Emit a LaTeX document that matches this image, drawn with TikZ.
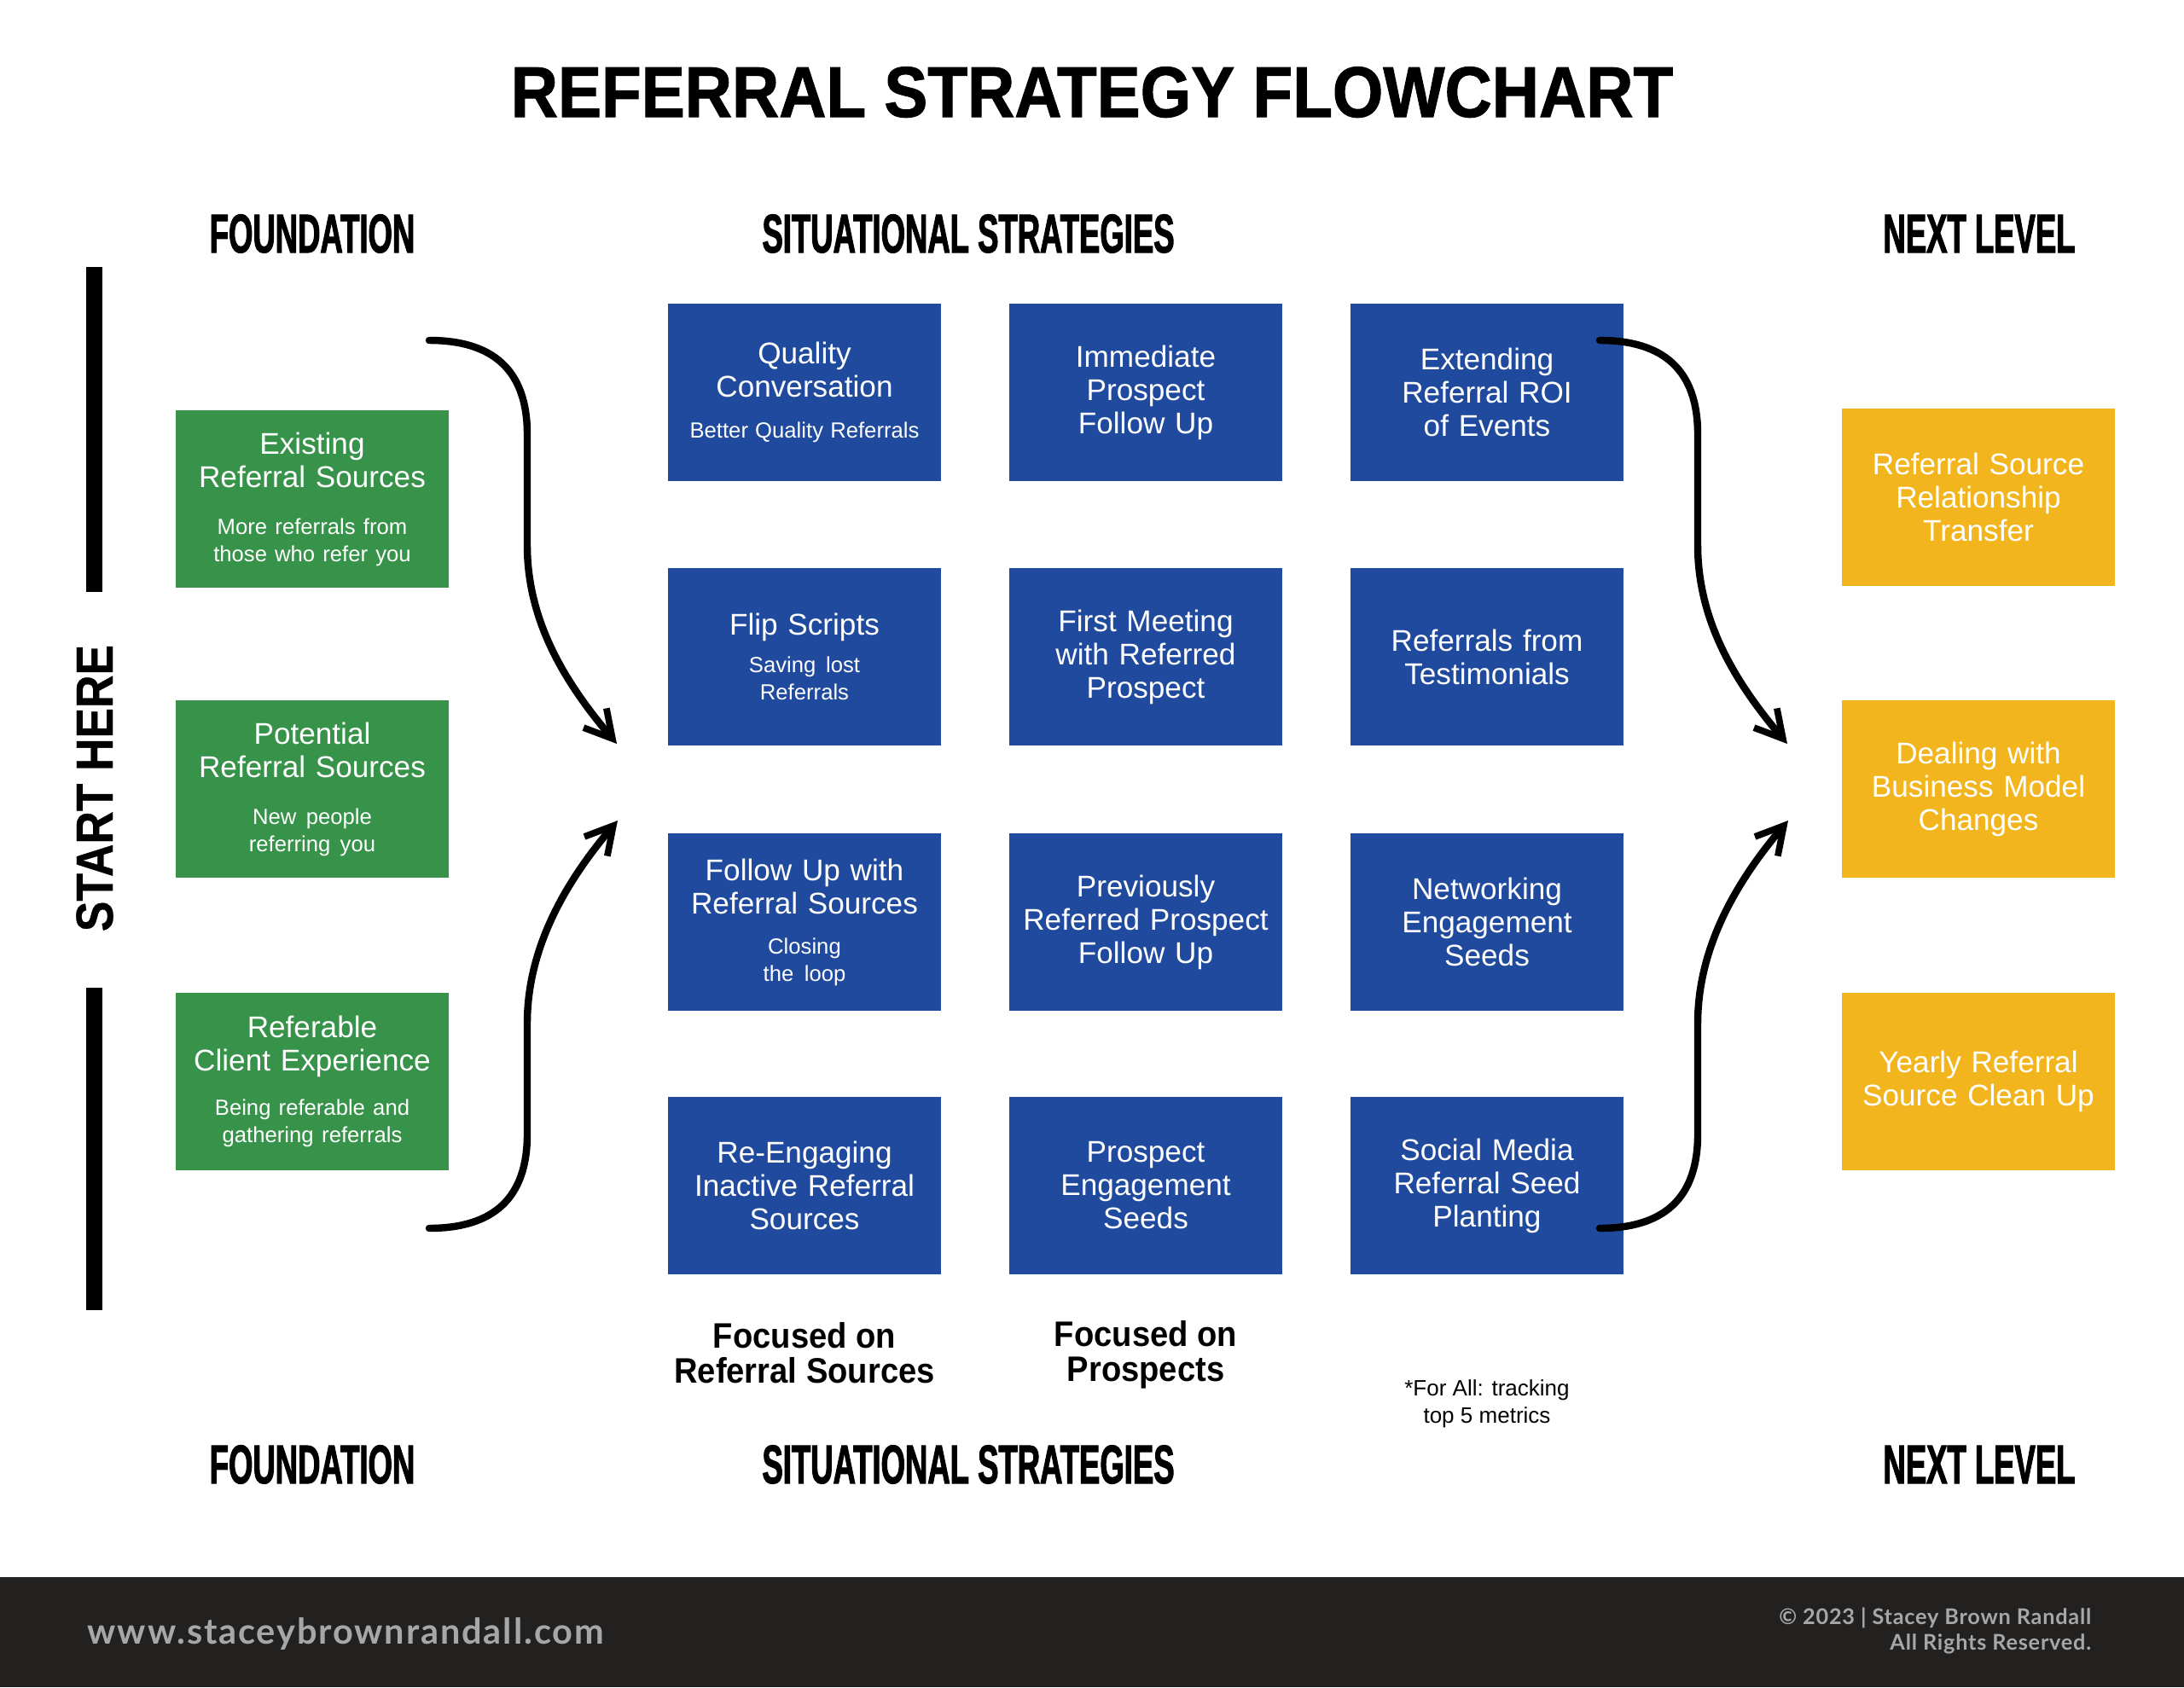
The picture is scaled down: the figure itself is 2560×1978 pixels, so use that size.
\documentclass[tikz,border=0pt]{standalone}
\usepackage{fontspec}
\usetikzlibrary{arrows.meta,calc}
\setmainfont{Liberation Sans}
\newfontfamily\titlefam{Liberation Sans}[FakeStretch=0.91,BoldFeatures={FakeBold=1.2}]
\newfontfamily\headfam{Liberation Sans}[FakeStretch=0.57,BoldFeatures={FakeBold=1.6}]
\newfontfamily\startfam{Liberation Sans}[FakeStretch=0.87,BoldFeatures={FakeBold=0.6}]
\newfontfamily\labfam{Liberation Sans}[FakeStretch=0.92]
\newfontfamily\footfam{Lato}[LetterSpace=4.5]
\newfontfamily\copyfam{Lato}[LetterSpace=3]
\definecolor{gbox}{HTML}{38934A}
\definecolor{bbox}{HTML}{1F4A9E}
\definecolor{ybox}{HTML}{F2B51D}
\definecolor{footbg}{HTML}{222120}
\definecolor{foottxt}{HTML}{A7A7A9}
\newcommand{\subf}{\fontsize{7.3}{9.1}\selectfont\spaceskip=0pt\xspaceskip=0pt\relax}
\tikzset{
  cell/.style={rectangle, inner sep=0pt, minimum width=3.2cm, minimum height=2.08cm,
    text width=3.1cm, align=center, text=white, font=\fontsize{10}{11.1}\selectfont},
  gcell/.style={cell, fill=gbox},
  bcell/.style={cell, fill=bbox},
  ycell/.style={cell, fill=ybox},
  hdr/.style={anchor=base, inner sep=0pt, font=\headfam\bfseries\fontsize{18.2}{20}\selectfont},
  focus/.style={align=center, inner sep=0pt, font=\labfam\bfseries\fontsize{11.8}{11.7}\selectfont},
  curly/.style={line width=2.4pt, line cap=round, black,
    -{Straight Barb[length=9pt,width=10pt,line width=2.2pt]}},
  bar/.style={fill=black}
}
\begin{document}
\begin{tikzpicture}[x=0.01cm,y=-0.01cm]
\useasboundingbox (0,0) rectangle (2560,1978);
\fill[white] (0,0) rectangle (2560,1978);
\fill[footbg] (0,1849) rectangle (2560,1978);

% title
\node[anchor=base, inner sep=0pt, font=\titlefam\bfseries\fontsize{23.9}{28}\selectfont] (title) at (1280,137) {REFERRAL STRATEGY FLOWCHART};

% headers
\node[hdr] (hfound) at (366,296) {FOUNDATION};
\node[hdr] (hsit) at (1135,296) {SITUATIONAL STRATEGIES};
\node[hdr] (hnext) at (2320,296) {NEXT LEVEL};
\node[hdr] (ffound) at (366,1739) {FOUNDATION};
\node[hdr] (fsit) at (1135,1739) {SITUATIONAL STRATEGIES};
\node[hdr] (fnext) at (2320,1739) {NEXT LEVEL};

% start here
\fill[bar] (101,313) rectangle (120,694);
\fill[bar] (101,1158) rectangle (120,1536);
\node[rotate=90, inner sep=0pt, font=\startfam\bfseries\fontsize{17.4}{20}\selectfont] (start) at (111,924) {START HERE};

% foundation boxes
\node[gcell] (g1) at (366,585) {Existing\\Referral Sources\par\vspace{6.5pt}{\subf More referrals from\\those who refer you\par}};
\node[gcell] (g2) at (366,925) {Potential\\Referral Sources\par\vspace{6.5pt}{\subf New people\\referring you\par}};
\node[gcell] (g3) at (366,1268) {Referable\\Client Experience\par\vspace{5.5pt}{\subf Being referable and\\gathering referrals\par}};

% situational boxes
\node[bcell] (b11) at (943,460) {Quality\\Conversation\par\vspace{4.6pt}{\subf Better Quality Referrals\par}};
\node[bcell] (b12) at (1343,460) {Immediate\\Prospect\\Follow Up};
\node[bcell] (b13) at (1743,460) {Extending\\Referral ROI\\of Events};
\node[bcell] (b21) at (943,770) {Flip Scripts\par\vspace{3.4pt}{\subf Saving lost\\Referrals\par}};
\node[bcell] (b22) at (1343,770) {First Meeting\\with Referred\\Prospect};
\node[bcell] (b23) at (1743,770) {Referrals from\\Testimonials};
\node[bcell] (b31) at (943,1081) {Follow Up with\\Referral Sources\par\vspace{4.3pt}{\subf Closing\\the loop\par}};
\node[bcell] (b32) at (1343,1081) {Previously\\Referred Prospect\\Follow Up};
\node[bcell] (b33) at (1743,1081) {Networking\\Engagement\\Seeds};
\node[bcell] (b41) at (943,1390) {Re-Engaging\\Inactive Referral\\Sources};
\node[bcell] (b42) at (1343,1390) {Prospect\\Engagement\\Seeds};
\node[bcell] (b43) at (1743,1390) {Social Media\\Referral Seed\\Planting};

% next level boxes
\node[ycell] (y1) at (2319,583) {Referral Source\\Relationship\\Transfer};
\node[ycell] (y2) at (2319,925) {Dealing with\\Business Model\\Changes};
\node[ycell] (y3) at (2319,1268) {Yearly Referral\\Source Clean Up};

% labels under columns
\node[focus] (lref) at (943,1586) {Focused on\\Referral Sources};
\node[focus] (lpro) at (1343,1588) {Focused on\\Prospects};
\node[align=center, inner sep=0pt, font=\fontsize{7.4}{9.1}\selectfont] (lall) at (1743,1646) {*For All: tracking\\top 5 metrics};

% curly arrows
\coordinate (s1) at (503,399);  \coordinate (e1) at (723,872);
\coordinate (s2) at (503,1440); \coordinate (e2) at (724,962);
\coordinate (s3) at (1875,399); \coordinate (e3) at (2095,872);
\coordinate (s4) at (1875,1440); \coordinate (e4) at (2096,962);
\draw[curly] (s1) .. controls +(75,0) and +(0,-75) .. ++(115,110) -- ++(0,130) .. controls +(0,90) and +(-60,-71) .. (e1);
\draw[curly] (s2) .. controls +(75,0) and +(0,75) .. ++(115,-110) -- ++(0,-130) .. controls +(0,-90) and +(-60,71) .. (e2);
\draw[curly] (s3) .. controls +(75,0) and +(0,-75) .. ++(115,110) -- ++(0,130) .. controls +(0,90) and +(-60,-71) .. (e3);
\draw[curly] (s4) .. controls +(75,0) and +(0,75) .. ++(115,-110) -- ++(0,-130) .. controls +(0,-90) and +(-60,71) .. (e4);

% footer
\node[anchor=base west, inner sep=0pt, text=foottxt, font=\footfam\bfseries\fontsize{11.8}{14}\selectfont] (url) at (102,1927) {www.staceybrownrandall.com};
\node[anchor=base east, inner sep=0pt, text=foottxt, font=\copyfam\bfseries\fontsize{7.2}{9}\selectfont] (copy1) at (2452,1904) {© 2023 | Stacey Brown Randall};
\node[anchor=base east, inner sep=0pt, text=foottxt, font=\copyfam\bfseries\fontsize{7.2}{9}\selectfont] (copy2) at (2452,1934) {All Rights Reserved.};
\end{tikzpicture}
\end{document}
